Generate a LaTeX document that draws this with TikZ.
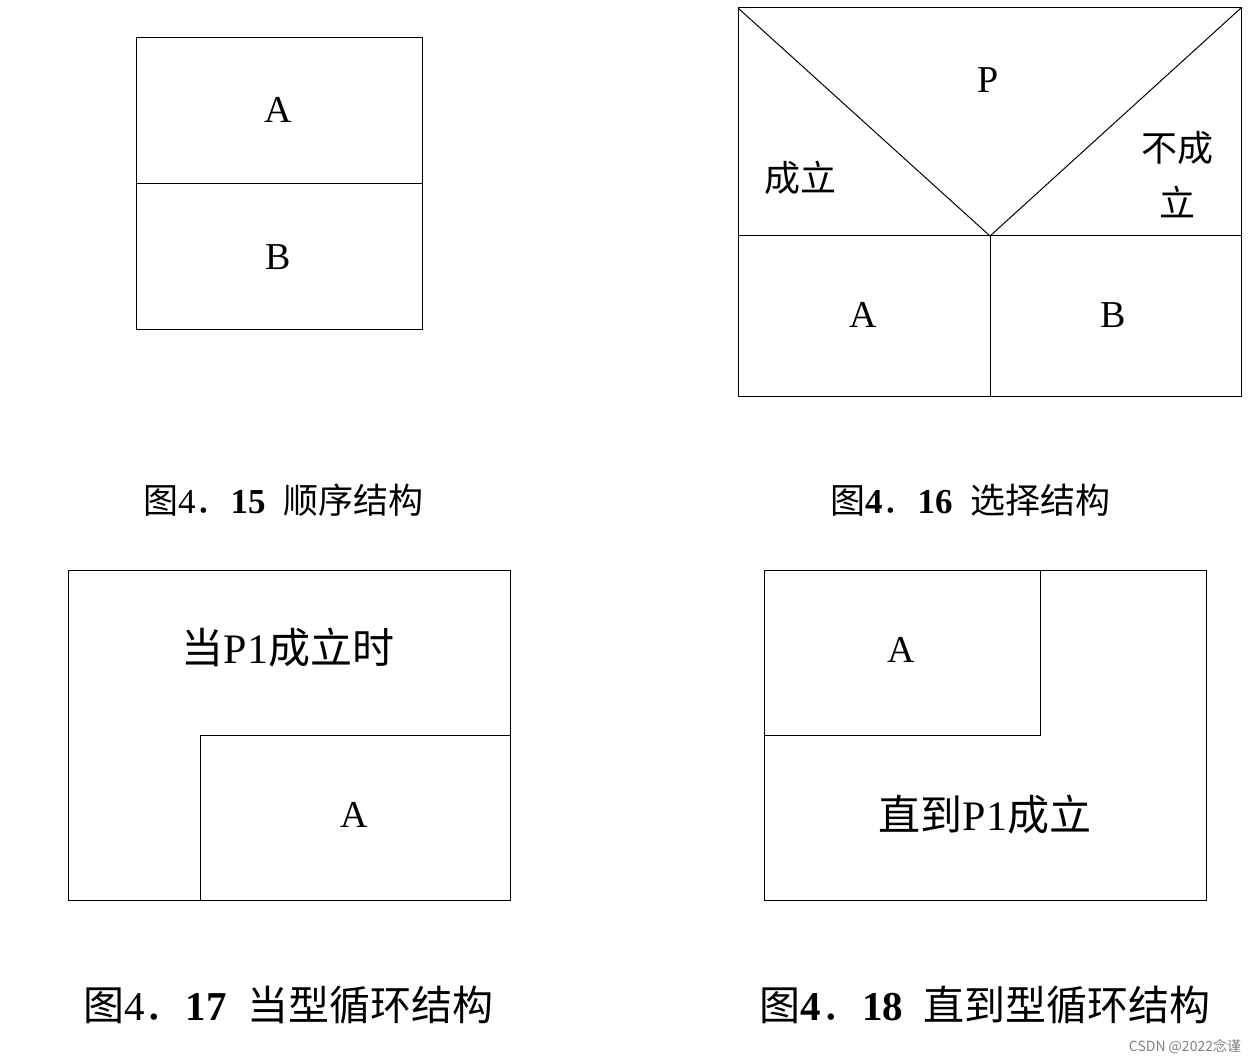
\documentclass[tikz,border=0pt]{standalone}
\usepackage{fontspec}
\setmainfont{Liberation Serif}
\newfontfamily\cjk{Noto Sans CJK SC}
\begin{document}
\begin{tikzpicture}[x=1pt,y=-1pt,
  box/.style={draw=black,line width=1pt},
  lab/.style={font=\fontsize{38}{40}\selectfont},
  cn/.style={font=\fontsize{36}{40}\selectfont\cjk},
  captext/.style={font=\fontsize{35}{38}\selectfont\cjk},
  captextb/.style={font=\fontsize{41}{44}\selectfont\cjk}]
\useasboundingbox[fill=white] (0,0) rectangle (1258,1064);
% 4.15
\draw[box] (136,38) rectangle (422,330);
\draw[box] (136,184) -- (422,184);
\node[lab] (a1) at (278,110) {A};
\node[lab] (b1) at (278,257) {B};
% 4.16
\draw[box] (738,8) rectangle (1241,396);
\coordinate (v) at (990,236);
\draw[box] (738,8) -- (v) -- (1241,8);
\draw[box] (738,236) -- (1241,236);
\draw[box] (v) -- (990,396);
\node[lab] (p) at (988,80) {P};
\node[cn] (c1) at (800,178) {成立};
\node[cn] (c2) at (1177,148) {不成};
\node[cn] (c3) at (1177,202) {立};
\node[lab] (a2) at (863,315) {A};
\node[lab] (b2) at (1113,315) {B};
% 4.17
\draw[box] (68,570) rectangle (510,900);
\draw[box] (200,900) -- (200,735) -- (510,735);
\node[font=\fontsize{42}{44}\selectfont] (w) at (288,648) {{\cjk 当}P1{\cjk 成立时}};
\node[lab] (a3) at (354,815) {A};
% 4.18
\draw[box] (764,570) rectangle (1206,900);
\draw[box] (764,735) -- (1040,735) -- (1040,570);
\node[lab] (a4) at (901,650) {A};
\node[font=\fontsize{42}{44}\selectfont] (u) at (985,815) {{\cjk 直到}P1{\cjk 成立}};
% captions
\node[captext] (t1) at (283,500) {图{\rmfamily 4}．{\rmfamily\bfseries 15}\hspace{0.5em}顺序结构};
\node[captext] (t2) at (970,500) {图{\rmfamily\bfseries 4}．{\rmfamily\bfseries 16}\hspace{0.5em}选择结构};
\node[captextb] (t3) at (288,1005) {图{\rmfamily 4}．{\rmfamily\bfseries 17}\hspace{0.5em}当型循环结构};
\node[captextb] (t4) at (985,1005) {图{\rmfamily\bfseries 4}．{\rmfamily\bfseries 18}\hspace{0.5em}直到型循环结构};
\node[font=\fontsize{14}{16}\selectfont\cjk,text=gray] (wm) at (1185,1047) {CSDN @2022念谨};
\end{tikzpicture}
\end{document}
